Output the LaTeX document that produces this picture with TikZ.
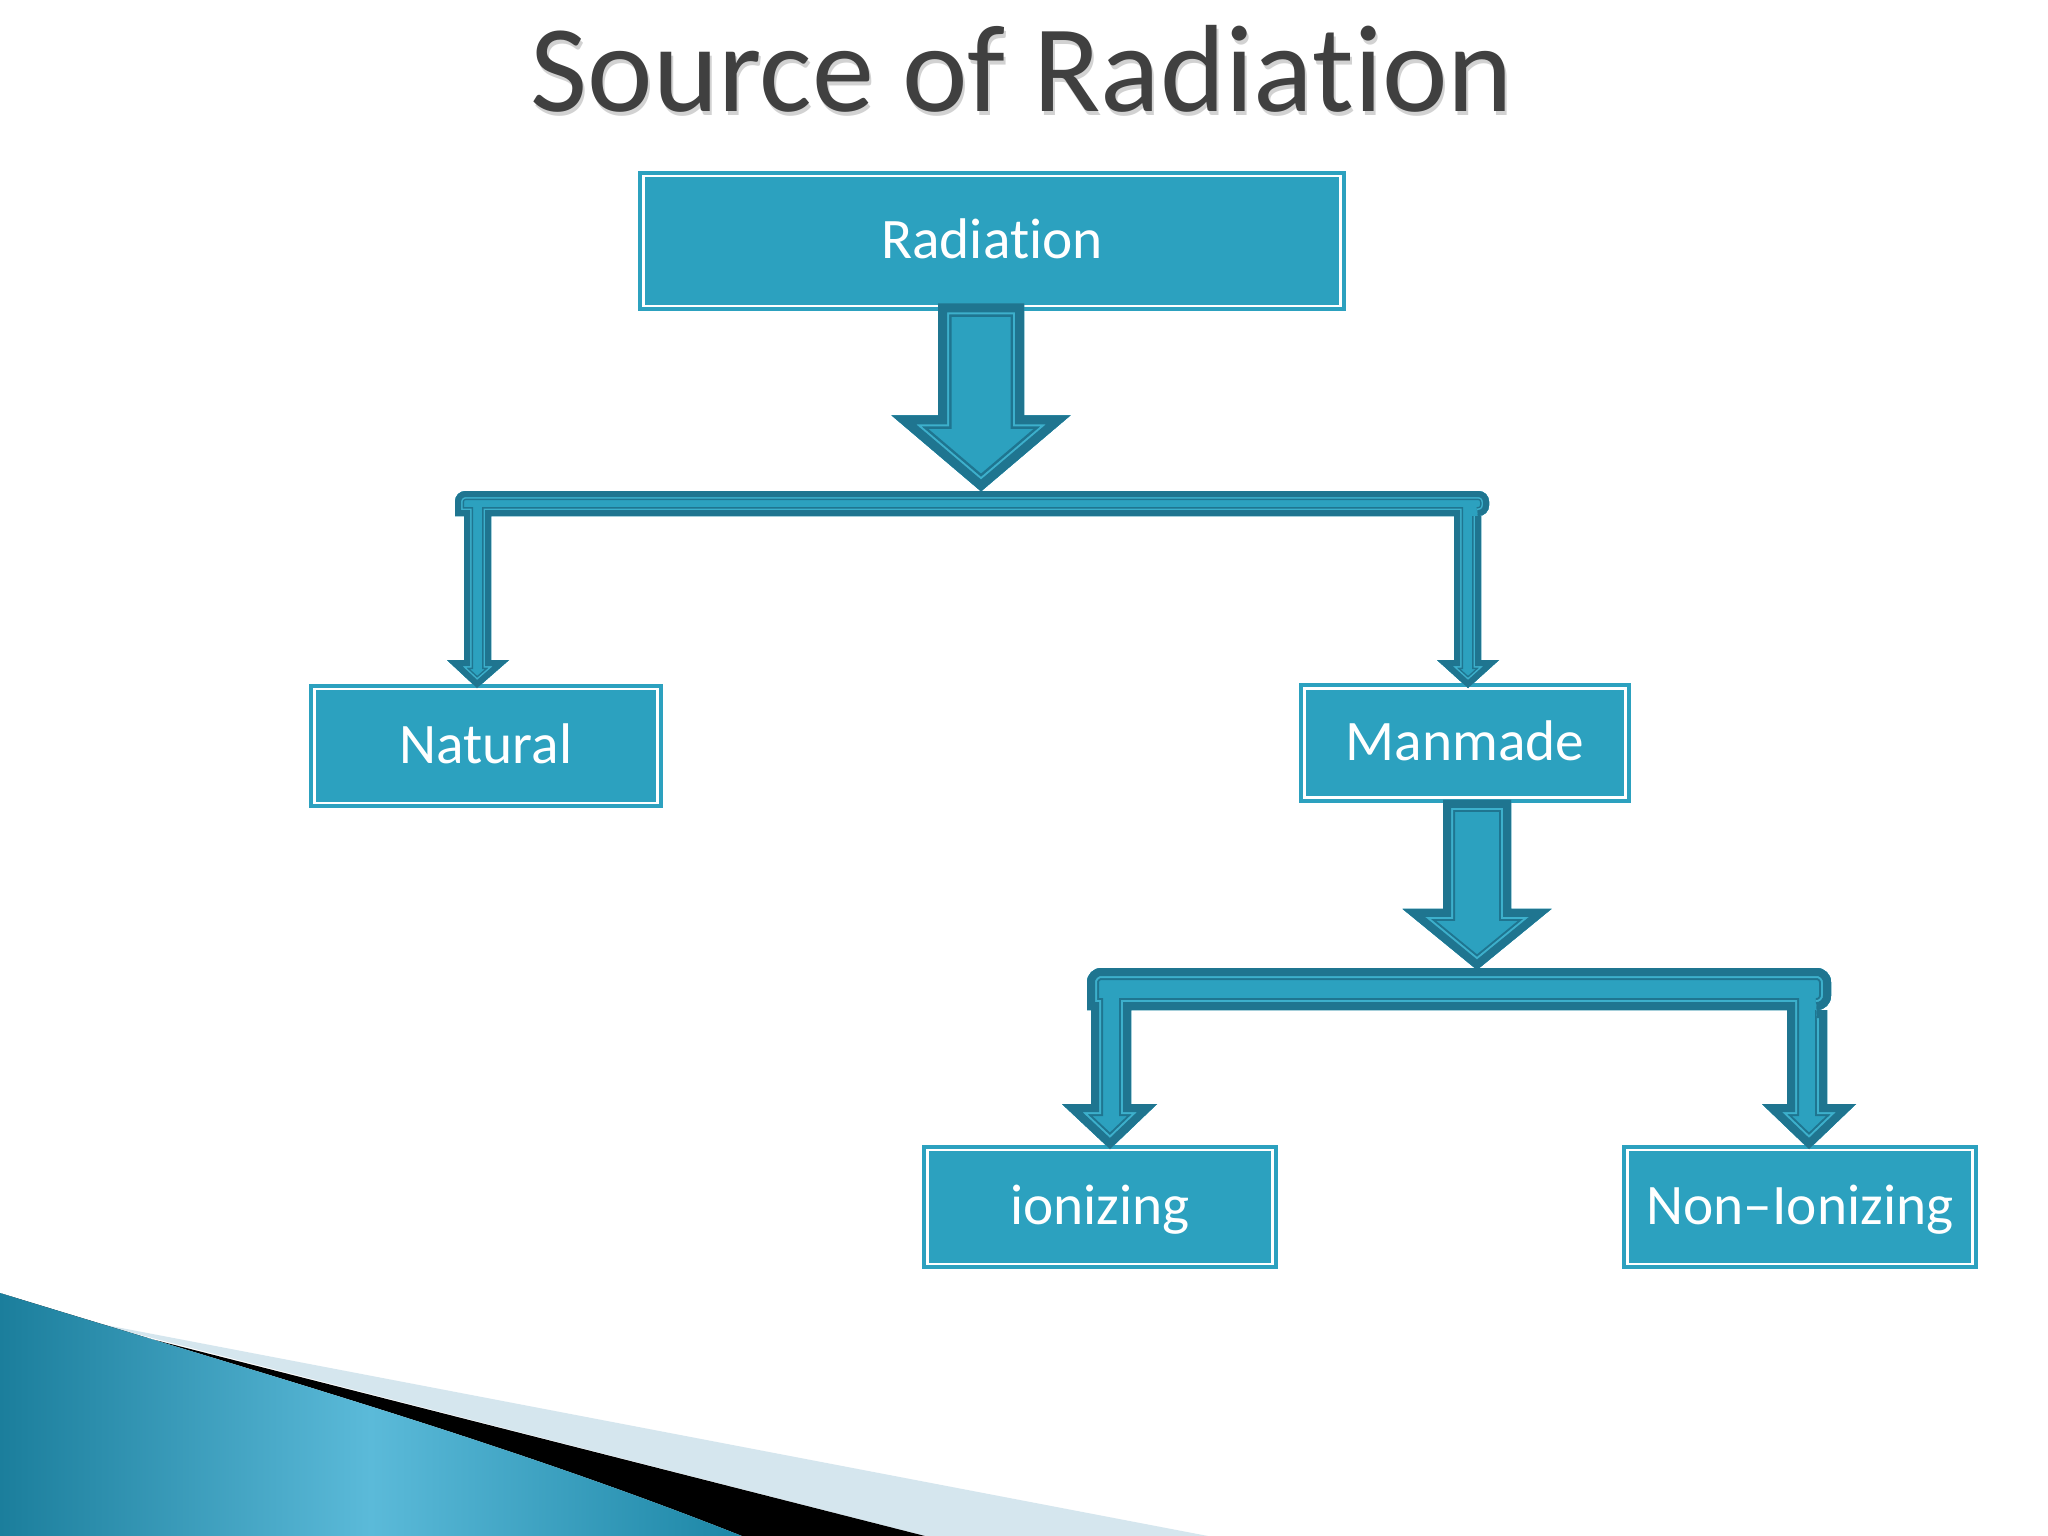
\documentclass[tikz,border=0pt]{standalone}
\usepackage{fontspec}
\setmainfont{Carlito}[Ligatures={NoCommon}]
\definecolor{boxblue}{HTML}{2CA1BF}
\definecolor{darkteal}{HTML}{1F7590}
\definecolor{lightline}{HTML}{3DB0CC}
\definecolor{titlegray}{HTML}{404040}
\definecolor{swlight}{HTML}{D5E6EE}
\definecolor{swdark}{HTML}{1B7E9C}
\definecolor{swmid}{HTML}{5BBAD9}
\definecolor{swright}{HTML}{1C86A6}
\newcommand\pxu{0.284528pt}
% #1 path, #2 outer dark band, #3 light band, #4 inner dark band (px)
\newcommand\bandshape[4]{%
  \fill[boxblue] #1;
  \begin{scope}
    \clip #1;
    \draw[darkteal, line width={2*(#2+#3+#4)*\pxu}] #1;
    \draw[lightline, line width={2*(#2+#3)*\pxu}] #1;
    \draw[darkteal, line width={2*#2*\pxu}] #1;
  \end{scope}}
\tikzset{
  box/.style={fill=boxblue, draw=boxblue, line width=0.45pt, inner sep=0pt,
    text=white, font=\fontsize{16.3}{19}\selectfont,
    text height=11pt, text depth=1.3pt,
    path picture={\draw[white, line width=0.7pt]
      ([shift={(1.3pt,-1.3pt)}]path picture bounding box.north west) rectangle
      ([shift={(-1.3pt,1.3pt)}]path picture bounding box.south east);}},
  titletext/.style={anchor=base, font=\fontsize{35.3}{40}\selectfont}
}
\begin{document}
\begin{tikzpicture}[x=0.01cm,y=-0.01cm]
\useasboundingbox[fill=white] (0,0) rectangle (2048,1536);

% bottom-left swoosh
\fill[swlight] (90,1322) -- (1208,1536) -- (925,1536) -- cycle;
\fill[black] (0,1293) .. controls (250,1370) and (500,1440) .. (742,1536) -- (925,1536) -- (100,1326) -- cycle;
\shade[left color=swdark, right color=swright, middle color=swmid]
  (0,1293) .. controls (250,1370) and (500,1440) .. (742,1536) -- (0,1536) -- cycle;

% title
\node[titletext, text=gray!35] at (1024,115) {Source of Radiation};
\node[titletext, text=titlegray] (title) at (1022,111) {Source of Radiation};

% boxes
\node[box, minimum width=7.06cm, minimum height=1.39cm] (rad) at (992,241) {Radiation};
\node[box, minimum width=3.52cm, minimum height=1.23cm] (nat) at (486,746) {Natural};
\node[box, minimum width=3.30cm, minimum height=1.18cm] (man) at (1465,743) {Manmade};
\node[box, minimum width=3.54cm, minimum height=1.23cm] (ion) at (1100,1207) {ionizing};
\node[box, minimum width=3.54cm, minimum height=1.23cm] (non) at (1800,1207) {Non–Ionizing};

% arrow Radiation -> bracket 1
\begin{scope}[shift={(rad.south)}]
  \bandshape{(-54,-8) -- (32,-8) -- (32,104) -- (78.5,104) -- (-11,180) -- (-100.5,104) -- (-54,104) -- cycle}{9}{2}{2.5}
\end{scope}

% bracket 1 to Natural and Manmade
\bandshape{(455,516) [rounded corners=3pt]-- (455,491) -- (1489,491) -- (1489,516) [sharp corners]-- (1481,516) -- (1481,660) -- (1499,660) -- (1468,688) -- (1437,660) -- (1454,660) -- (1454,516) -- (491,516) -- (491,660) -- (509,660) -- (477,688) -- (447,660) -- (464,660) -- (464,516) -- cycle}{6}{1.5}{1.5}

% arrow Manmade -> bracket 2
\begin{scope}[shift={(man.south)}]
  \bandshape{(-22,-3) -- (46,-3) -- (46,106) -- (86.5,106) -- (12,167) -- (-62.5,106) -- (-22,106) -- cycle}{8}{2}{2}
\end{scope}

% bracket 2 to ionizing and Non-Ionizing
\bandshape{(1087,1010) [rounded corners=4pt]-- (1087,968) -- (1831,968) -- (1831,1010) [sharp corners]-- (1827,1010) -- (1827,1104) -- (1856,1104) -- (1809,1149) -- (1762,1104) -- (1787,1104) -- (1787,1010) -- (1131,1010) -- (1131,1104) -- (1157,1104) -- (1110,1149) -- (1062,1104) -- (1091,1104) -- (1091,1010) -- cycle}{8}{2}{2}
\end{tikzpicture}
\end{document}
